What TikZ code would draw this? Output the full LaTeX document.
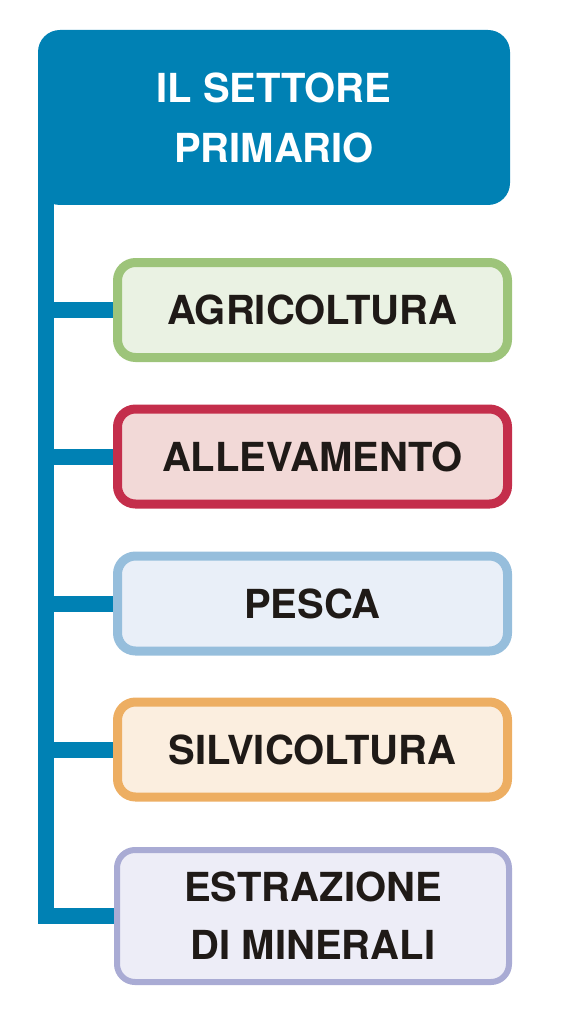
\documentclass[tikz,border=0pt]{standalone}
\usepackage{fontspec}
\setmainfont{TeX Gyre Heros}
\usepackage{xcolor}
\definecolor{head blue}{HTML}{0081B4}
\definecolor{ink}{HTML}{1F1A17}
\definecolor{agri line}{HTML}{9DC47A}
\definecolor{agri fill}{HTML}{EAF2E3}
\definecolor{alle line}{HTML}{C42E4B}
\definecolor{alle fill}{HTML}{F2D9D7}
\definecolor{pesca line}{HTML}{96BEDC}
\definecolor{pesca fill}{HTML}{E9EFF8}
\definecolor{silvi line}{HTML}{EDAE62}
\definecolor{silvi fill}{HTML}{FBEEDF}
\definecolor{estr line}{HTML}{A9ABD4}
\definecolor{estr fill}{HTML}{EDEDF7}

\begin{document}
\begin{tikzpicture}[x=1pt, y=-1pt,
		sector/.style={rounded corners=18pt, line width=9pt, minimum width=390pt, minimum height=95pt, align=center, text=ink, font=\bfseries\fontsize{40}{58}\selectfont},
		stem/.style={line width=16pt, draw=head blue}]
			\useasboundingbox (0,0) rectangle (561,1024);
			\node[fill=head blue, rounded corners=22pt, minimum width=472pt, minimum height=175pt, align=center, text=white, font=\bfseries\fontsize{40}{60}\selectfont] (head) at (274,117.5){IL SETTORE\\PRIMARIO};
			\coordinate (stem) at ([xshift=8.5pt]head.west);
			\node[sector, draw=agri line, fill=agri fill] (agri) at (312.5,310){AGRICOLTURA};
			\node[sector, draw=alle line, fill=alle fill] (alle) at (312.5,456.5){ALLEVAMENTO};
			\node[sector, draw=pesca line, fill=pesca fill] (pesca) at (312.5,603.5){PESCA};
			\node[sector, draw=silvi line, fill=silvi fill] (silvi) at (312.5,749.5){SILVICOLTURA};
			\node[sector, draw=estr line, fill=estr fill, line width=6pt, minimum width=392pt, minimum height=132pt] (estr) at (313,916){ESTRAZIONE\\DI MINERALI};
			\draw[stem] (stem) |- (estr.west);
			\foreach \s in {agri, alle, pesca, silvi}
				\draw[stem] (stem |- \s.west) -- (\s.west);
		\end{tikzpicture}
\end{document}
